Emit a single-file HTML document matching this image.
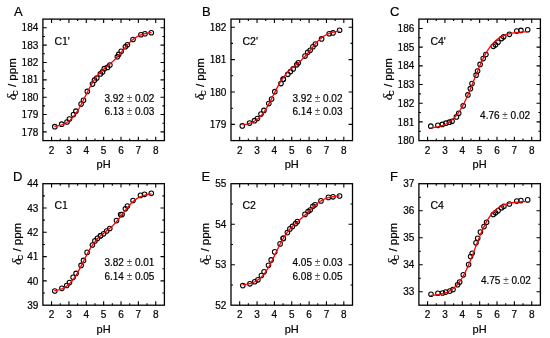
<!DOCTYPE html>
<html><head><meta charset="utf-8"><title>pH titration</title><style>
html,body{margin:0;padding:0;background:#fff;}
body{width:550px;height:338px;overflow:hidden;}
svg{display:block;}
text{font-family:"Liberation Sans",Arial,sans-serif;fill:#000;stroke:#000;stroke-width:0.2px;}
.t{font-size:10px;}
.ph{font-size:11px;}
.let{font-size:13px;}
.ann{font-size:10.5px;}
.num{font-size:10px;}
.yl{font-size:11.5px;}
.d{font-family:"Liberation Serif",serif;font-style:italic;font-size:13px;}
.sub{font-size:8px;}
.pm{fill:#555;stroke:none;}
.o{font-family:"Noto Sans CJK JP","Liberation Sans",sans-serif;}
</style></head><body>
<svg width="550" height="338" viewBox="0 0 550 338">
<rect width="550" height="338" fill="#fff"/>
<g><path d="M51.58 140.6v-3.9M51.58 19.1v3.9M60.26 140.6v-2.0M60.26 19.1v2.0M68.94 140.6v-3.9M68.94 19.1v3.9M77.61 140.6v-2.0M77.61 19.1v2.0M86.29 140.6v-3.9M86.29 19.1v3.9M94.97 140.6v-2.0M94.97 19.1v2.0M103.65 140.6v-3.9M103.65 19.1v3.9M112.33 140.6v-2.0M112.33 19.1v2.0M121.01 140.6v-3.9M121.01 19.1v3.9M129.69 140.6v-2.0M129.69 19.1v2.0M138.36 140.6v-3.9M138.36 19.1v3.9M147.04 140.6v-2.0M147.04 19.1v2.0M155.72 140.6v-3.9M155.72 19.1v3.9M42.9 131.92h3.9M164.4 131.92h-3.9M42.9 123.24h2.0M164.4 123.24h-2.0M42.9 114.56h3.9M164.4 114.56h-3.9M42.9 105.89h2.0M164.4 105.89h-2.0M42.9 97.21h3.9M164.4 97.21h-3.9M42.9 88.53h2.0M164.4 88.53h-2.0M42.9 79.85h3.9M164.4 79.85h-3.9M42.9 71.17h2.0M164.4 71.17h-2.0M42.9 62.49h3.9M164.4 62.49h-3.9M42.9 53.81h2.0M164.4 53.81h-2.0M42.9 45.14h3.9M164.4 45.14h-3.9M42.9 36.46h2.0M164.4 36.46h-2.0M42.9 27.78h3.9M164.4 27.78h-3.9" stroke="#000" stroke-width="1.1" fill="none"/><rect x="42.9" y="19.1" width="121.5" height="121.5" fill="none" stroke="#000" stroke-width="1.3"/><text x="51.58" y="153.6" class="t" text-anchor="middle">2</text><text x="68.94" y="153.6" class="t" text-anchor="middle">3</text><text x="86.29" y="153.6" class="t" text-anchor="middle">4</text><text x="103.65" y="153.6" class="t" text-anchor="middle">5</text><text x="121.01" y="153.6" class="t" text-anchor="middle">6</text><text x="138.36" y="153.6" class="t" text-anchor="middle">7</text><text x="155.72" y="153.6" class="t" text-anchor="middle">8</text><text x="38.3" y="135.52" class="t" text-anchor="end"><tspan class="o">1</tspan>78</text><text x="38.3" y="118.16" class="t" text-anchor="end"><tspan class="o">1</tspan>79</text><text x="38.3" y="100.81" class="t" text-anchor="end"><tspan class="o">1</tspan>80</text><text x="38.3" y="83.45" class="t" text-anchor="end"><tspan class="o">1</tspan>8<tspan class="o">1</tspan></text><text x="38.3" y="66.09" class="t" text-anchor="end"><tspan class="o">1</tspan>82</text><text x="38.3" y="48.74" class="t" text-anchor="end"><tspan class="o">1</tspan>83</text><text x="38.3" y="31.38" class="t" text-anchor="end"><tspan class="o">1</tspan>84</text><text x="103.65" y="167.9" class="ph" text-anchor="middle">pH</text><text transform="translate(15.5 81.15) rotate(-90)" text-anchor="middle" class="yl"><tspan class="d" dx="2">δ</tspan><tspan class="sub" dx="-2" dy="2.3">C</tspan><tspan dy="-2.3"> / ppm</tspan></text><text x="14" y="16.1" class="let">A</text><text x="54.4" y="44.5" class="ann">C<tspan class="o">1</tspan>'</text><text x="104.4" y="101.6" class="num">3.92 <tspan class="pm">±</tspan> 0.02</text><text x="104.4" y="115" class="num">6.<tspan class="o">1</tspan>3 <tspan class="pm">±</tspan> 0.03</text><g fill="none" stroke="#000" stroke-width="1.05"><circle cx="54.8" cy="126.7" r="2.3"/><circle cx="61.7" cy="124.2" r="2.3"/><circle cx="67" cy="122" r="2.3"/><circle cx="69.4" cy="119" r="2.3"/><circle cx="73.5" cy="114.5" r="2.3"/><circle cx="75.9" cy="111.2" r="2.3"/><circle cx="81.1" cy="104.1" r="2.3"/><circle cx="83.5" cy="100.3" r="2.3"/><circle cx="87.3" cy="91.4" r="2.3"/><circle cx="92.5" cy="84.1" r="2.3"/><circle cx="94.5" cy="80.2" r="2.3"/><circle cx="96.8" cy="78.1" r="2.3"/><circle cx="100.4" cy="73.9" r="2.3"/><circle cx="102.5" cy="71.9" r="2.3"/><circle cx="104.34" cy="68.69" r="2.3"/><circle cx="107.5" cy="67.4" r="2.3"/><circle cx="109.9" cy="65.1" r="2.3"/><circle cx="117.36" cy="56.77" r="2.3"/><circle cx="118.7" cy="54.4" r="2.3"/><circle cx="121.2" cy="51.3" r="2.3"/><circle cx="125.4" cy="46.7" r="2.3"/><circle cx="127.4" cy="44.7" r="2.3"/><circle cx="133" cy="39.5" r="2.3"/><circle cx="140.9" cy="34.7" r="2.3"/><circle cx="145" cy="33.7" r="2.3"/><circle cx="151.3" cy="32.7" r="2.3"/></g><path d="M54.36,126.41 55.17,126.3 55.99,126.17 56.81,126.03 57.62,125.87 58.44,125.69 59.26,125.5 60.07,125.29 60.89,125.05 61.71,124.79 62.52,124.5 63.34,124.18 64.16,123.83 64.97,123.44 65.79,123.02 66.61,122.55 67.42,122.04 68.24,121.48 69.06,120.88 69.88,120.21 70.69,119.5 71.51,118.72 72.33,117.87 73.14,116.97 73.96,116 74.78,114.95 75.59,113.84 76.41,112.67 77.23,111.42 78.04,110.11 78.86,108.73 79.68,107.3 80.49,105.81 81.31,104.27 82.13,102.69 82.94,101.08 83.76,99.45 84.58,97.8 85.39,96.14 86.21,94.48 87.03,92.84 87.84,91.21 88.66,89.62 89.48,88.06 90.3,86.54 91.11,85.07 91.93,83.66 92.75,82.3 93.56,81 94.38,79.76 95.2,78.58 96.01,77.45 96.83,76.39 97.65,75.38 98.46,74.42 99.28,73.51 100.1,72.64 100.91,71.82 101.73,71.03 102.55,70.27 103.36,69.54 104.18,68.83 105,68.13 105.81,67.45 106.63,66.78 107.45,66.1 108.26,65.43 109.08,64.74 109.9,64.05 110.72,63.35 111.53,62.62 112.35,61.88 113.17,61.11 113.98,60.32 114.8,59.5 115.62,58.66 116.43,57.79 117.25,56.89 118.07,55.97 118.88,55.03 119.7,54.07 120.52,53.09 121.33,52.1 122.15,51.11 122.97,50.11 123.78,49.12 124.6,48.13 125.42,47.15 126.23,46.2 127.05,45.26 127.87,44.36 128.69,43.48 129.5,42.64 130.32,41.83 131.14,41.06 131.95,40.34 132.77,39.65 133.59,39 134.4,38.4 135.22,37.83 136.04,37.31 136.85,36.82 137.67,36.37 138.49,35.95 139.3,35.57 140.12,35.22 140.94,34.9 141.75,34.6 142.57,34.33 143.39,34.09 144.2,33.87 145.02,33.66 145.84,33.48 146.65,33.31 147.47,33.16 148.29,33.03 149.11,32.9 149.92,32.79 150.74,32.69 151.56,32.6" fill="none" stroke="#f00" stroke-width="1.3"/></g>
<g><path d="M239.68 140.6v-3.9M239.68 19.1v3.9M248.36 140.6v-2.0M248.36 19.1v2.0M257.04 140.6v-3.9M257.04 19.1v3.9M265.71 140.6v-2.0M265.71 19.1v2.0M274.39 140.6v-3.9M274.39 19.1v3.9M283.07 140.6v-2.0M283.07 19.1v2.0M291.75 140.6v-3.9M291.75 19.1v3.9M300.43 140.6v-2.0M300.43 19.1v2.0M309.11 140.6v-3.9M309.11 19.1v3.9M317.79 140.6v-2.0M317.79 19.1v2.0M326.46 140.6v-3.9M326.46 19.1v3.9M335.14 140.6v-2.0M335.14 19.1v2.0M343.82 140.6v-3.9M343.82 19.1v3.9M231 124.4h3.9M352.5 124.4h-3.9M231 108.2h2.0M352.5 108.2h-2.0M231 92h3.9M352.5 92h-3.9M231 75.8h2.0M352.5 75.8h-2.0M231 59.6h3.9M352.5 59.6h-3.9M231 43.4h2.0M352.5 43.4h-2.0M231 27.2h3.9M352.5 27.2h-3.9" stroke="#000" stroke-width="1.1" fill="none"/><rect x="231" y="19.1" width="121.5" height="121.5" fill="none" stroke="#000" stroke-width="1.3"/><text x="239.68" y="153.6" class="t" text-anchor="middle">2</text><text x="257.04" y="153.6" class="t" text-anchor="middle">3</text><text x="274.39" y="153.6" class="t" text-anchor="middle">4</text><text x="291.75" y="153.6" class="t" text-anchor="middle">5</text><text x="309.11" y="153.6" class="t" text-anchor="middle">6</text><text x="326.46" y="153.6" class="t" text-anchor="middle">7</text><text x="343.82" y="153.6" class="t" text-anchor="middle">8</text><text x="226.4" y="128" class="t" text-anchor="end"><tspan class="o">1</tspan>79</text><text x="226.4" y="95.6" class="t" text-anchor="end"><tspan class="o">1</tspan>80</text><text x="226.4" y="63.2" class="t" text-anchor="end"><tspan class="o">1</tspan>8<tspan class="o">1</tspan></text><text x="226.4" y="30.8" class="t" text-anchor="end"><tspan class="o">1</tspan>82</text><text x="291.75" y="167.9" class="ph" text-anchor="middle">pH</text><text transform="translate(203.6 81.15) rotate(-90)" text-anchor="middle" class="yl"><tspan class="d" dx="2">δ</tspan><tspan class="sub" dx="-2" dy="2.3">C</tspan><tspan dy="-2.3"> / ppm</tspan></text><text x="202.1" y="16.1" class="let">B</text><text x="242.5" y="44.5" class="ann">C2'</text><text x="292.5" y="101.6" class="num">3.92 <tspan class="pm">±</tspan> 0.02</text><text x="292.5" y="115" class="num">6.<tspan class="o">1</tspan>4 <tspan class="pm">±</tspan> 0.03</text><g fill="none" stroke="#000" stroke-width="1.05"><circle cx="242.3" cy="125.9" r="2.3"/><circle cx="249.6" cy="123.1" r="2.3"/><circle cx="254.5" cy="120.7" r="2.3"/><circle cx="257.4" cy="118.5" r="2.3"/><circle cx="261" cy="114.1" r="2.3"/><circle cx="263.9" cy="110.4" r="2.3"/><circle cx="268.8" cy="103.6" r="2.3"/><circle cx="271.6" cy="99" r="2.3"/><circle cx="274.8" cy="91.7" r="2.3"/><circle cx="281" cy="83.6" r="2.3"/><circle cx="283.3" cy="79.2" r="2.3"/><circle cx="283.3" cy="79.2" r="2.3"/><circle cx="287.8" cy="74.3" r="2.3"/><circle cx="290.5" cy="71.6" r="2.3"/><circle cx="293.2" cy="68.9" r="2.3"/><circle cx="296.7" cy="64.8" r="2.3"/><circle cx="298.35" cy="62.8" r="2.3"/><circle cx="305" cy="56.1" r="2.3"/><circle cx="307.7" cy="52.3" r="2.3"/><circle cx="310.15" cy="50.23" r="2.3"/><circle cx="312.9" cy="46.7" r="2.3"/><circle cx="315.4" cy="44" r="2.3"/><circle cx="321.6" cy="38.9" r="2.3"/><circle cx="329.2" cy="33.7" r="2.3"/><circle cx="333" cy="32.9" r="2.3"/><circle cx="339.6" cy="30.2" r="2.3"/></g><path d="M242.46,124.81 243.27,124.7 244.09,124.57 244.91,124.43 245.72,124.27 246.54,124.1 247.36,123.91 248.17,123.7 248.99,123.46 249.81,123.21 250.62,122.92 251.44,122.6 252.26,122.26 253.07,121.87 253.89,121.45 254.71,120.99 255.52,120.49 256.34,119.94 257.16,119.34 257.98,118.68 258.79,117.97 259.61,117.2 260.43,116.37 261.24,115.47 262.06,114.51 262.88,113.48 263.69,112.38 264.51,111.22 265.33,109.98 266.14,108.68 266.96,107.32 267.78,105.91 268.59,104.43 269.41,102.91 270.23,101.35 271.04,99.76 271.86,98.14 272.68,96.51 273.49,94.87 274.31,93.23 275.13,91.6 275.94,90 276.76,88.42 277.58,86.88 278.4,85.38 279.21,83.93 280.03,82.52 280.85,81.18 281.66,79.89 282.48,78.66 283.3,77.5 284.11,76.38 284.93,75.33 285.75,74.33 286.56,73.38 287.38,72.48 288.2,71.62 289.01,70.81 289.83,70.03 290.65,69.27 291.46,68.55 292.28,67.85 293.1,67.16 293.91,66.48 294.73,65.81 295.55,65.14 296.36,64.47 297.18,63.79 298,63.1 298.82,62.4 299.63,61.67 300.45,60.93 301.27,60.17 302.08,59.37 302.9,58.56 303.72,57.71 304.53,56.84 305.35,55.94 306.17,55.01 306.98,54.06 307.8,53.09 308.62,52.11 309.43,51.11 310.25,50.1 311.07,49.09 311.88,48.08 312.7,47.08 313.52,46.08 314.33,45.11 315.15,44.16 315.97,43.23 316.79,42.34 317.6,41.47 318.42,40.65 319.24,39.86 320.05,39.11 320.87,38.4 321.69,37.74 322.5,37.12 323.32,36.53 324.14,35.99 324.95,35.49 325.77,35.02 326.59,34.59 327.4,34.2 328.22,33.83 329.04,33.5 329.85,33.2 330.67,32.92 331.49,32.67 332.3,32.43 333.12,32.23 333.94,32.03 334.75,31.86 335.57,31.71 336.39,31.56 337.21,31.44 338.02,31.32 338.84,31.22 339.66,31.12" fill="none" stroke="#f00" stroke-width="1.3"/></g>
<g><path d="M427.58 140.6v-3.9M427.58 19.1v3.9M436.26 140.6v-2.0M436.26 19.1v2.0M444.94 140.6v-3.9M444.94 19.1v3.9M453.61 140.6v-2.0M453.61 19.1v2.0M462.29 140.6v-3.9M462.29 19.1v3.9M470.97 140.6v-2.0M470.97 19.1v2.0M479.65 140.6v-3.9M479.65 19.1v3.9M488.33 140.6v-2.0M488.33 19.1v2.0M497.01 140.6v-3.9M497.01 19.1v3.9M505.69 140.6v-2.0M505.69 19.1v2.0M514.36 140.6v-3.9M514.36 19.1v3.9M523.04 140.6v-2.0M523.04 19.1v2.0M531.72 140.6v-3.9M531.72 19.1v3.9M418.9 131.25h2.0M540.4 131.25h-2.0M418.9 121.91h3.9M540.4 121.91h-3.9M418.9 112.56h2.0M540.4 112.56h-2.0M418.9 103.22h3.9M540.4 103.22h-3.9M418.9 93.87h2.0M540.4 93.87h-2.0M418.9 84.52h3.9M540.4 84.52h-3.9M418.9 75.18h2.0M540.4 75.18h-2.0M418.9 65.83h3.9M540.4 65.83h-3.9M418.9 56.48h2.0M540.4 56.48h-2.0M418.9 47.14h3.9M540.4 47.14h-3.9M418.9 37.79h2.0M540.4 37.79h-2.0M418.9 28.45h3.9M540.4 28.45h-3.9" stroke="#000" stroke-width="1.1" fill="none"/><rect x="418.9" y="19.1" width="121.5" height="121.5" fill="none" stroke="#000" stroke-width="1.3"/><text x="427.58" y="153.6" class="t" text-anchor="middle">2</text><text x="444.94" y="153.6" class="t" text-anchor="middle">3</text><text x="462.29" y="153.6" class="t" text-anchor="middle">4</text><text x="479.65" y="153.6" class="t" text-anchor="middle">5</text><text x="497.01" y="153.6" class="t" text-anchor="middle">6</text><text x="514.36" y="153.6" class="t" text-anchor="middle">7</text><text x="531.72" y="153.6" class="t" text-anchor="middle">8</text><text x="414.3" y="144.2" class="t" text-anchor="end"><tspan class="o">1</tspan>80</text><text x="414.3" y="125.51" class="t" text-anchor="end"><tspan class="o">1</tspan>8<tspan class="o">1</tspan></text><text x="414.3" y="106.82" class="t" text-anchor="end"><tspan class="o">1</tspan>82</text><text x="414.3" y="88.12" class="t" text-anchor="end"><tspan class="o">1</tspan>83</text><text x="414.3" y="69.43" class="t" text-anchor="end"><tspan class="o">1</tspan>84</text><text x="414.3" y="50.74" class="t" text-anchor="end"><tspan class="o">1</tspan>85</text><text x="414.3" y="32.05" class="t" text-anchor="end"><tspan class="o">1</tspan>86</text><text x="479.65" y="167.9" class="ph" text-anchor="middle">pH</text><text transform="translate(391.5 81.15) rotate(-90)" text-anchor="middle" class="yl"><tspan class="d" dx="2">δ</tspan><tspan class="sub" dx="-2" dy="2.3">C</tspan><tspan dy="-2.3"> / ppm</tspan></text><text x="390" y="16.1" class="let">C</text><text x="430.4" y="44.5" class="ann">C4'</text><text x="480.1" y="119.1" class="num">4.76 <tspan class="pm">±</tspan> 0.02</text><g fill="none" stroke="#000" stroke-width="1.05"><circle cx="430.8" cy="126.2" r="2.3"/><circle cx="437.9" cy="125.3" r="2.3"/><circle cx="442.3" cy="124.4" r="2.3"/><circle cx="445.9" cy="123.2" r="2.3"/><circle cx="449.4" cy="122.2" r="2.3"/><circle cx="452.1" cy="121.3" r="2.3"/><circle cx="456.5" cy="116.9" r="2.3"/><circle cx="458.7" cy="113.3" r="2.3"/><circle cx="463.2" cy="105.8" r="2.3"/><circle cx="467.9" cy="94.9" r="2.3"/><circle cx="470.4" cy="88.7" r="2.3"/><circle cx="472" cy="83.5" r="2.3"/><circle cx="476.1" cy="75.2" r="2.3"/><circle cx="477.6" cy="71.1" r="2.3"/><circle cx="480.1" cy="64.4" r="2.3"/><circle cx="483.2" cy="58.6" r="2.3"/><circle cx="485.9" cy="54.5" r="2.3"/><circle cx="493.3" cy="46.3" r="2.3"/><circle cx="495.5" cy="44.8" r="2.3"/><circle cx="498" cy="42.2" r="2.3"/><circle cx="501.6" cy="38.6" r="2.3"/><circle cx="503.7" cy="36.8" r="2.3"/><circle cx="509.4" cy="34.3" r="2.3"/><circle cx="516.8" cy="31.1" r="2.3"/><circle cx="520.9" cy="30.4" r="2.3"/><circle cx="527.7" cy="29.7" r="2.3"/></g><path d="M430.36,128.02 431.17,127.93 431.99,127.83 432.81,127.72 433.62,127.6 434.44,127.47 435.26,127.33 436.07,127.18 436.89,127.02 437.71,126.84 438.52,126.64 439.34,126.43 440.16,126.21 440.97,125.96 441.79,125.69 442.61,125.41 443.42,125.09 444.24,124.76 445.06,124.39 445.88,124 446.69,123.58 447.51,123.12 448.33,122.63 449.14,122.1 449.96,121.53 450.78,120.92 451.59,120.27 452.41,119.56 453.23,118.81 454.04,118.01 454.86,117.15 455.68,116.24 456.49,115.26 457.31,114.23 458.13,113.13 458.94,111.97 459.76,110.74 460.58,109.45 461.39,108.09 462.21,106.66 463.03,105.17 463.84,103.61 464.66,101.98 465.48,100.3 466.3,98.55 467.11,96.75 467.93,94.9 468.75,92.99 469.56,91.05 470.38,89.07 471.2,87.05 472.01,85.02 472.83,82.97 473.65,80.9 474.46,78.84 475.28,76.78 476.1,74.73 476.91,72.7 477.73,70.7 478.55,68.73 479.36,66.79 480.18,64.91 481,63.07 481.81,61.28 482.63,59.56 483.45,57.89 484.26,56.29 485.08,54.75 485.9,53.28 486.72,51.87 487.53,50.53 488.35,49.26 489.17,48.06 489.98,46.92 490.8,45.84 491.62,44.83 492.43,43.87 493.25,42.98 494.07,42.14 494.88,41.35 495.7,40.61 496.52,39.93 497.33,39.29 498.15,38.69 498.97,38.13 499.78,37.62 500.6,37.14 501.42,36.69 502.23,36.28 503.05,35.89 503.87,35.54 504.69,35.21 505.5,34.91 506.32,34.63 507.14,34.37 507.95,34.13 508.77,33.91 509.59,33.7 510.4,33.51 511.22,33.34 512.04,33.18 512.85,33.03 513.67,32.89 514.49,32.77 515.3,32.65 516.12,32.55 516.94,32.45 517.75,32.36 518.57,32.27 519.39,32.2 520.2,32.13 521.02,32.06 521.84,32 522.65,31.95 523.47,31.9 524.29,31.85 525.11,31.81 525.92,31.77 526.74,31.73 527.56,31.7" fill="none" stroke="#f00" stroke-width="1.3"/></g>
<g><path d="M51.58 305.2v-3.9M51.58 183.7v3.9M60.26 305.2v-2.0M60.26 183.7v2.0M68.94 305.2v-3.9M68.94 183.7v3.9M77.61 305.2v-2.0M77.61 183.7v2.0M86.29 305.2v-3.9M86.29 183.7v3.9M94.97 305.2v-2.0M94.97 183.7v2.0M103.65 305.2v-3.9M103.65 183.7v3.9M112.33 305.2v-2.0M112.33 183.7v2.0M121.01 305.2v-3.9M121.01 183.7v3.9M129.69 305.2v-2.0M129.69 183.7v2.0M138.36 305.2v-3.9M138.36 183.7v3.9M147.04 305.2v-2.0M147.04 183.7v2.0M155.72 305.2v-3.9M155.72 183.7v3.9M42.9 293.05h2.0M164.4 293.05h-2.0M42.9 280.9h3.9M164.4 280.9h-3.9M42.9 268.75h2.0M164.4 268.75h-2.0M42.9 256.6h3.9M164.4 256.6h-3.9M42.9 244.45h2.0M164.4 244.45h-2.0M42.9 232.3h3.9M164.4 232.3h-3.9M42.9 220.15h2.0M164.4 220.15h-2.0M42.9 208h3.9M164.4 208h-3.9M42.9 195.85h2.0M164.4 195.85h-2.0" stroke="#000" stroke-width="1.1" fill="none"/><rect x="42.9" y="183.7" width="121.5" height="121.5" fill="none" stroke="#000" stroke-width="1.3"/><text x="51.58" y="318.2" class="t" text-anchor="middle">2</text><text x="68.94" y="318.2" class="t" text-anchor="middle">3</text><text x="86.29" y="318.2" class="t" text-anchor="middle">4</text><text x="103.65" y="318.2" class="t" text-anchor="middle">5</text><text x="121.01" y="318.2" class="t" text-anchor="middle">6</text><text x="138.36" y="318.2" class="t" text-anchor="middle">7</text><text x="155.72" y="318.2" class="t" text-anchor="middle">8</text><text x="38.3" y="308.8" class="t" text-anchor="end">39</text><text x="38.3" y="284.5" class="t" text-anchor="end">40</text><text x="38.3" y="260.2" class="t" text-anchor="end">4<tspan class="o">1</tspan></text><text x="38.3" y="235.9" class="t" text-anchor="end">42</text><text x="38.3" y="211.6" class="t" text-anchor="end">43</text><text x="38.3" y="187.3" class="t" text-anchor="end">44</text><text x="103.65" y="332.5" class="ph" text-anchor="middle">pH</text><text transform="translate(20.8 245.75) rotate(-90)" text-anchor="middle" class="yl"><tspan class="d" dx="2">δ</tspan><tspan class="sub" dx="-2" dy="2.3">C</tspan><tspan dy="-2.3"> / ppm</tspan></text><text x="13" y="180.7" class="let">D</text><text x="54.4" y="209.1" class="ann">C<tspan class="o">1</tspan></text><text x="104.4" y="266.2" class="num">3.82 <tspan class="pm">±</tspan> 0.0<tspan class="o">1</tspan></text><text x="104.4" y="279.6" class="num">6.<tspan class="o">1</tspan>4 <tspan class="pm">±</tspan> 0.05</text><g fill="none" stroke="#000" stroke-width="1.05"><circle cx="54.8" cy="291" r="2.3"/><circle cx="61.9" cy="288.3" r="2.3"/><circle cx="66.7" cy="285.5" r="2.3"/><circle cx="69.5" cy="282.6" r="2.3"/><circle cx="73.1" cy="277.3" r="2.3"/><circle cx="76.1" cy="273.4" r="2.3"/><circle cx="81.1" cy="265.4" r="2.3"/><circle cx="83.5" cy="260.4" r="2.3"/><circle cx="87.1" cy="252.4" r="2.3"/><circle cx="92.4" cy="245" r="2.3"/><circle cx="94.9" cy="240.9" r="2.3"/><circle cx="97.4" cy="238.4" r="2.3"/><circle cx="100.5" cy="235.7" r="2.3"/><circle cx="100.5" cy="235.7" r="2.3"/><circle cx="103.6" cy="233.7" r="2.3"/><circle cx="106.7" cy="231" r="2.3"/><circle cx="109.8" cy="228.5" r="2.3"/><circle cx="116.5" cy="220.6" r="2.3"/><circle cx="120.6" cy="214.6" r="2.3"/><circle cx="122.05" cy="214.62" r="2.3"/><circle cx="125.4" cy="208.8" r="2.3"/><circle cx="127.4" cy="206.1" r="2.3"/><circle cx="133" cy="200.5" r="2.3"/><circle cx="140.5" cy="195.4" r="2.3"/><circle cx="144.6" cy="194.3" r="2.3"/><circle cx="151.3" cy="193.3" r="2.3"/></g><path d="M54.36,290.74 55.17,290.6 55.99,290.44 56.81,290.26 57.62,290.07 58.44,289.85 59.26,289.61 60.07,289.35 60.89,289.06 61.71,288.74 62.52,288.38 63.34,288 64.16,287.57 64.97,287.1 65.79,286.59 66.61,286.03 67.42,285.42 68.24,284.75 69.06,284.03 69.88,283.25 70.69,282.41 71.51,281.5 72.33,280.52 73.14,279.48 73.96,278.37 74.78,277.19 75.59,275.94 76.41,274.63 77.23,273.26 78.04,271.83 78.86,270.35 79.68,268.82 80.49,267.25 81.31,265.65 82.13,264.02 82.94,262.38 83.76,260.74 84.58,259.1 85.39,257.47 86.21,255.87 87.03,254.29 87.84,252.75 88.66,251.26 89.48,249.82 90.3,248.42 91.11,247.09 91.93,245.82 92.75,244.6 93.56,243.45 94.38,242.35 95.2,241.31 96.01,240.33 96.83,239.4 97.65,238.52 98.46,237.69 99.28,236.89 100.1,236.13 100.91,235.41 101.73,234.71 102.55,234.04 103.36,233.38 104.18,232.73 105,232.09 105.81,231.46 106.63,230.82 107.45,230.18 108.26,229.53 109.08,228.86 109.9,228.17 110.72,227.46 111.53,226.73 112.35,225.97 113.17,225.18 113.98,224.36 114.8,223.5 115.62,222.61 116.43,221.69 117.25,220.74 118.07,219.75 118.88,218.74 119.7,217.7 120.52,216.64 121.33,215.57 122.15,214.49 122.97,213.4 123.78,212.31 124.6,211.22 125.42,210.15 126.23,209.1 127.05,208.07 127.87,207.06 128.69,206.09 129.5,205.16 130.32,204.26 131.14,203.4 131.95,202.59 132.77,201.83 133.59,201.1 134.4,200.43 135.22,199.79 136.04,199.2 136.85,198.66 137.67,198.15 138.49,197.68 139.3,197.25 140.12,196.86 140.94,196.49 141.75,196.16 142.57,195.86 143.39,195.59 144.2,195.33 145.02,195.11 145.84,194.9 146.65,194.71 147.47,194.54 148.29,194.39 149.11,194.25 149.92,194.12 150.74,194.01 151.56,193.91" fill="none" stroke="#f00" stroke-width="1.3"/></g>
<g><path d="M239.68 305.2v-3.9M239.68 183.7v3.9M248.36 305.2v-2.0M248.36 183.7v2.0M257.04 305.2v-3.9M257.04 183.7v3.9M265.71 305.2v-2.0M265.71 183.7v2.0M274.39 305.2v-3.9M274.39 183.7v3.9M283.07 305.2v-2.0M283.07 183.7v2.0M291.75 305.2v-3.9M291.75 183.7v3.9M300.43 305.2v-2.0M300.43 183.7v2.0M309.11 305.2v-3.9M309.11 183.7v3.9M317.79 305.2v-2.0M317.79 183.7v2.0M326.46 305.2v-3.9M326.46 183.7v3.9M335.14 305.2v-2.0M335.14 183.7v2.0M343.82 305.2v-3.9M343.82 183.7v3.9M231 284.95h2.0M352.5 284.95h-2.0M231 264.7h3.9M352.5 264.7h-3.9M231 244.45h2.0M352.5 244.45h-2.0M231 224.2h3.9M352.5 224.2h-3.9M231 203.95h2.0M352.5 203.95h-2.0" stroke="#000" stroke-width="1.1" fill="none"/><rect x="231" y="183.7" width="121.5" height="121.5" fill="none" stroke="#000" stroke-width="1.3"/><text x="239.68" y="318.2" class="t" text-anchor="middle">2</text><text x="257.04" y="318.2" class="t" text-anchor="middle">3</text><text x="274.39" y="318.2" class="t" text-anchor="middle">4</text><text x="291.75" y="318.2" class="t" text-anchor="middle">5</text><text x="309.11" y="318.2" class="t" text-anchor="middle">6</text><text x="326.46" y="318.2" class="t" text-anchor="middle">7</text><text x="343.82" y="318.2" class="t" text-anchor="middle">8</text><text x="226.4" y="308.8" class="t" text-anchor="end">52</text><text x="226.4" y="268.3" class="t" text-anchor="end">53</text><text x="226.4" y="227.8" class="t" text-anchor="end">54</text><text x="226.4" y="187.3" class="t" text-anchor="end">55</text><text x="291.75" y="332.5" class="ph" text-anchor="middle">pH</text><text transform="translate(208.9 245.75) rotate(-90)" text-anchor="middle" class="yl"><tspan class="d" dx="2">δ</tspan><tspan class="sub" dx="-2" dy="2.3">C</tspan><tspan dy="-2.3"> / ppm</tspan></text><text x="201.6" y="180.7" class="let">E</text><text x="242.5" y="209.1" class="ann">C2</text><text x="292.5" y="266.2" class="num">4.05 <tspan class="pm">±</tspan> 0.03</text><text x="292.5" y="279.6" class="num">6.08 <tspan class="pm">±</tspan> 0.05</text><g fill="none" stroke="#000" stroke-width="1.05"><circle cx="242.8" cy="285.6" r="2.3"/><circle cx="249.9" cy="283.8" r="2.3"/><circle cx="254.7" cy="281.7" r="2.3"/><circle cx="257.9" cy="279.8" r="2.3"/><circle cx="261.4" cy="275.5" r="2.3"/><circle cx="264.1" cy="271.8" r="2.3"/><circle cx="268.5" cy="265.2" r="2.3"/><circle cx="271.2" cy="259.9" r="2.3"/><circle cx="274.7" cy="251.9" r="2.3"/><circle cx="280.1" cy="243.9" r="2.3"/><circle cx="283.3" cy="238.4" r="2.3"/><circle cx="283.3" cy="238.4" r="2.3"/><circle cx="287.4" cy="232.6" r="2.3"/><circle cx="289.9" cy="228.9" r="2.3"/><circle cx="292.44" cy="226.42" r="2.3"/><circle cx="295.57" cy="223.51" r="2.3"/><circle cx="297.4" cy="221.6" r="2.3"/><circle cx="305" cy="214.4" r="2.3"/><circle cx="308.1" cy="211.5" r="2.3"/><circle cx="310.15" cy="209.95" r="2.3"/><circle cx="312.9" cy="206.3" r="2.3"/><circle cx="315" cy="204.7" r="2.3"/><circle cx="321" cy="200.9" r="2.3"/><circle cx="328.4" cy="197.4" r="2.3"/><circle cx="333" cy="196.8" r="2.3"/><circle cx="339.6" cy="196" r="2.3"/></g><path d="M242.46,284.78 243.27,284.69 244.09,284.59 244.91,284.48 245.72,284.35 246.54,284.22 247.36,284.07 248.17,283.9 248.99,283.71 249.81,283.51 250.62,283.28 251.44,283.03 252.26,282.75 253.07,282.45 253.89,282.11 254.71,281.74 255.52,281.33 256.34,280.88 257.16,280.38 257.98,279.84 258.79,279.25 259.61,278.61 260.43,277.91 261.24,277.15 262.06,276.33 262.88,275.44 263.69,274.48 264.51,273.46 265.33,272.36 266.14,271.19 266.96,269.95 267.78,268.64 268.59,267.26 269.41,265.82 270.23,264.32 271.04,262.76 271.86,261.15 272.68,259.5 273.49,257.82 274.31,256.12 275.13,254.4 275.94,252.67 276.76,250.95 277.58,249.24 278.4,247.55 279.21,245.9 280.03,244.28 280.85,242.71 281.66,241.19 282.48,239.73 283.3,238.32 284.11,236.97 284.93,235.68 285.75,234.46 286.56,233.29 287.38,232.19 288.2,231.14 289.01,230.14 289.83,229.19 290.65,228.28 291.46,227.42 292.28,226.59 293.1,225.79 293.91,225.01 294.73,224.26 295.55,223.53 296.36,222.81 297.18,222.09 298,221.38 298.82,220.67 299.63,219.96 300.45,219.24 301.27,218.52 302.08,217.78 302.9,217.03 303.72,216.27 304.53,215.5 305.35,214.71 306.17,213.92 306.98,213.11 307.8,212.3 308.62,211.48 309.43,210.67 310.25,209.85 311.07,209.04 311.88,208.25 312.7,207.46 313.52,206.69 314.33,205.94 315.15,205.22 315.97,204.52 316.79,203.85 317.6,203.21 318.42,202.6 319.24,202.02 320.05,201.48 320.87,200.97 321.69,200.49 322.5,200.04 323.32,199.63 324.14,199.25 324.95,198.89 325.77,198.56 326.59,198.26 327.4,197.99 328.22,197.73 329.04,197.5 329.85,197.29 330.67,197.1 331.49,196.93 332.3,196.77 333.12,196.62 333.94,196.49 334.75,196.38 335.57,196.27 336.39,196.17 337.21,196.09 338.02,196.01 338.84,195.94 339.66,195.87" fill="none" stroke="#f00" stroke-width="1.3"/></g>
<g><path d="M427.58 305.2v-3.9M427.58 183.7v3.9M436.26 305.2v-2.0M436.26 183.7v2.0M444.94 305.2v-3.9M444.94 183.7v3.9M453.61 305.2v-2.0M453.61 183.7v2.0M462.29 305.2v-3.9M462.29 183.7v3.9M470.97 305.2v-2.0M470.97 183.7v2.0M479.65 305.2v-3.9M479.65 183.7v3.9M488.33 305.2v-2.0M488.33 183.7v2.0M497.01 305.2v-3.9M497.01 183.7v3.9M505.69 305.2v-2.0M505.69 183.7v2.0M514.36 305.2v-3.9M514.36 183.7v3.9M523.04 305.2v-2.0M523.04 183.7v2.0M531.72 305.2v-3.9M531.72 183.7v3.9M418.9 291.7h3.9M540.4 291.7h-3.9M418.9 278.2h2.0M540.4 278.2h-2.0M418.9 264.7h3.9M540.4 264.7h-3.9M418.9 251.2h2.0M540.4 251.2h-2.0M418.9 237.7h3.9M540.4 237.7h-3.9M418.9 224.2h2.0M540.4 224.2h-2.0M418.9 210.7h3.9M540.4 210.7h-3.9M418.9 197.2h2.0M540.4 197.2h-2.0" stroke="#000" stroke-width="1.1" fill="none"/><rect x="418.9" y="183.7" width="121.5" height="121.5" fill="none" stroke="#000" stroke-width="1.3"/><text x="427.58" y="318.2" class="t" text-anchor="middle">2</text><text x="444.94" y="318.2" class="t" text-anchor="middle">3</text><text x="462.29" y="318.2" class="t" text-anchor="middle">4</text><text x="479.65" y="318.2" class="t" text-anchor="middle">5</text><text x="497.01" y="318.2" class="t" text-anchor="middle">6</text><text x="514.36" y="318.2" class="t" text-anchor="middle">7</text><text x="531.72" y="318.2" class="t" text-anchor="middle">8</text><text x="414.3" y="295.3" class="t" text-anchor="end">33</text><text x="414.3" y="268.3" class="t" text-anchor="end">34</text><text x="414.3" y="241.3" class="t" text-anchor="end">35</text><text x="414.3" y="214.3" class="t" text-anchor="end">36</text><text x="414.3" y="187.3" class="t" text-anchor="end">37</text><text x="479.65" y="332.5" class="ph" text-anchor="middle">pH</text><text transform="translate(396.8 245.75) rotate(-90)" text-anchor="middle" class="yl"><tspan class="d" dx="2">δ</tspan><tspan class="sub" dx="-2" dy="2.3">C</tspan><tspan dy="-2.3"> / ppm</tspan></text><text x="390" y="180.7" class="let">F</text><text x="430.4" y="209.1" class="ann">C4</text><text x="480.9" y="283.7" class="num">4.75 <tspan class="pm">±</tspan> 0.02</text><g fill="none" stroke="#000" stroke-width="1.05"><circle cx="431" cy="294.2" r="2.3"/><circle cx="437.9" cy="293.2" r="2.3"/><circle cx="442.6" cy="293" r="2.3"/><circle cx="445.7" cy="292.1" r="2.3"/><circle cx="449.8" cy="291.1" r="2.3"/><circle cx="453" cy="289.6" r="2.3"/><circle cx="457.6" cy="284.7" r="2.3"/><circle cx="459.7" cy="282.1" r="2.3"/><circle cx="463.3" cy="274.8" r="2.3"/><circle cx="468.6" cy="264.6" r="2.3"/><circle cx="470.6" cy="256.5" r="2.3"/><circle cx="472.2" cy="253.2" r="2.3"/><circle cx="476" cy="242.8" r="2.3"/><circle cx="477.7" cy="238.3" r="2.3"/><circle cx="480.4" cy="232.1" r="2.3"/><circle cx="484" cy="226.6" r="2.3"/><circle cx="486.6" cy="222.2" r="2.3"/><circle cx="493.3" cy="214.5" r="2.3"/><circle cx="495.5" cy="212.8" r="2.3"/><circle cx="498" cy="210.8" r="2.3"/><circle cx="501.6" cy="207.8" r="2.3"/><circle cx="503.9" cy="206.2" r="2.3"/><circle cx="509.4" cy="204" r="2.3"/><circle cx="516.8" cy="201.1" r="2.3"/><circle cx="520.9" cy="200.6" r="2.3"/><circle cx="527.7" cy="199.9" r="2.3"/></g><path d="M430.36,295.55 431.17,295.48 431.99,295.42 432.81,295.34 433.62,295.26 434.44,295.17 435.26,295.08 436.07,294.97 436.89,294.86 437.71,294.73 438.52,294.59 439.34,294.44 440.16,294.28 440.97,294.1 441.79,293.9 442.61,293.69 443.42,293.46 444.24,293.2 445.06,292.93 445.88,292.63 446.69,292.3 447.51,291.95 448.33,291.56 449.14,291.14 449.96,290.69 450.78,290.2 451.59,289.66 452.41,289.09 453.23,288.46 454.04,287.79 454.86,287.07 455.68,286.29 456.49,285.45 457.31,284.55 458.13,283.59 458.94,282.56 459.76,281.46 460.58,280.29 461.39,279.05 462.21,277.73 463.03,276.34 463.84,274.88 464.66,273.33 465.48,271.72 466.3,270.03 467.11,268.27 467.93,266.44 468.75,264.55 469.56,262.6 470.38,260.6 471.2,258.55 472.01,256.46 472.83,254.35 473.65,252.21 474.46,250.05 475.28,247.89 476.1,245.74 476.91,243.59 477.73,241.47 478.55,239.38 479.36,237.32 480.18,235.31 481,233.35 481.81,231.44 482.63,229.6 483.45,227.82 484.26,226.12 485.08,224.48 485.9,222.92 486.72,221.44 487.53,220.03 488.35,218.7 489.17,217.44 489.98,216.25 490.8,215.14 491.62,214.1 492.43,213.12 493.25,212.21 494.07,211.36 494.88,210.56 495.7,209.83 496.52,209.14 497.33,208.51 498.15,207.92 498.97,207.38 499.78,206.88 500.6,206.42 501.42,205.99 502.23,205.6 503.05,205.24 503.87,204.9 504.69,204.6 505.5,204.32 506.32,204.06 507.14,203.82 507.95,203.6 508.77,203.41 509.59,203.22 510.4,203.06 511.22,202.9 512.04,202.76 512.85,202.63 513.67,202.51 514.49,202.41 515.3,202.31 516.12,202.22 516.94,202.14 517.75,202.06 518.57,201.99 519.39,201.93 520.2,201.87 521.02,201.82 521.84,201.77 522.65,201.72 523.47,201.68 524.29,201.65 525.11,201.61 525.92,201.58 526.74,201.56 527.56,201.53" fill="none" stroke="#f00" stroke-width="1.3"/></g>
</svg>
</body></html>
